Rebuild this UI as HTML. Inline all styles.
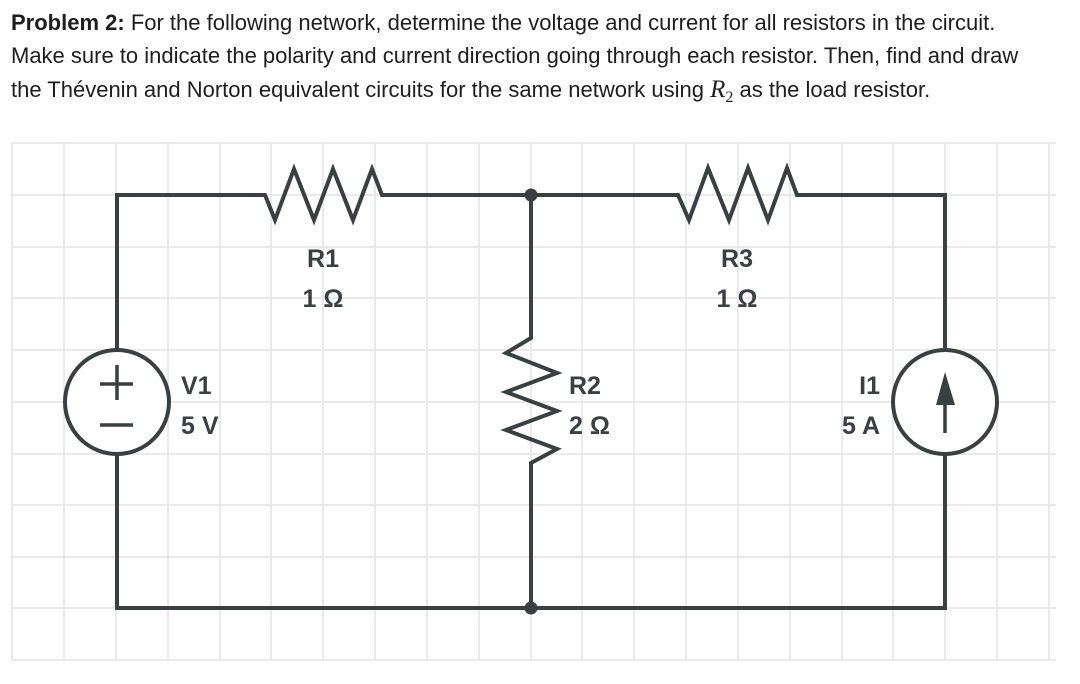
<!DOCTYPE html>
<html><head><meta charset="utf-8"><style>
html,body{margin:0;padding:0;background:#fff;width:1080px;height:684px;overflow:hidden}
svg{display:block}
.t{font-family:"Liberation Sans",sans-serif;font-size:22px;fill:#1e1e1e}
.l{font-family:"Liberation Sans","DejaVu Sans",sans-serif;font-size:25px;font-weight:bold;fill:#3a3f42}
</style></head><body>
<svg width="1080" height="684" viewBox="0 0 1080 684" xmlns="http://www.w3.org/2000/svg">
<text class="t" x="11" y="30"><tspan font-weight="bold">Problem 2:</tspan> For the following network, determine the voltage and current for all resistors in the circuit.</text>
<text class="t" x="11" y="63">Make sure to indicate the polarity and current direction going through each resistor. Then, find and draw</text>
<text class="t" x="11" y="97">the Thévenin and Norton equivalent circuits for the same network using <tspan font-family="Liberation Serif,serif" font-style="italic" font-size="25">R</tspan><tspan font-family="Liberation Serif,serif" font-size="16" dy="5">2</tspan><tspan dy="-5"> as the load resistor.</tspan></text>
<g stroke="#e4e4e4" stroke-width="1.5">
<path d="M12 143H1056M12 195H1056M12 247H1056M12 298H1056M12 350H1056M12 402H1056M12 454H1056M12 505H1056M12 557H1056M12 608H1056M12 660H1056"/>
<path d="M12 143V660M64 143V660M116 143V660M168 143V660M220 143V660M271 143V660M323 143V660M375 143V660M427 143V660M479 143V660M531 143V660M582 143V660M634 143V660M686 143V660M738 143V660M790 143V660M842 143V660M893 143V660M945 143V660M997 143V660M1049 143V660"/>
</g>
<g stroke="#3a3f42" stroke-width="4" fill="none" stroke-linejoin="miter">
<polyline points="117,350 117,195 265,195 275,220 294,169 314,220 333,169 353,220 372,169 382,195 531,195 678,195 689,220 708,168 729,220 748,168 768,220 787,168 797,195 945,195 945,350"/>
<polyline points="117,454 117,608 945,608 945,454"/>
<polyline points="531,195 531,338 506,353 557,373 506,392 557,411 506,430 557,449 531,463 531,608"/>
<circle cx="117" cy="402" r="52" fill="#fff"/>
<circle cx="945" cy="402" r="52" fill="#fff"/>
<path d="M100 384H133M117 365V400M100 425H133" stroke-width="3.5"/>
<path d="M945 433V398" stroke-width="3.5"/>
</g>
<polygon points="945,372 936,405 955,405" fill="#3a3f42"/>
<circle cx="531" cy="195" r="6.5" fill="#3a3f42"/>
<circle cx="531" cy="608" r="6.5" fill="#3a3f42"/>
<text class="l" x="323" y="267" text-anchor="middle">R1</text>
<text class="l" x="323" y="307" text-anchor="middle">1 Ω</text>
<text class="l" x="737" y="267" text-anchor="middle">R3</text>
<text class="l" x="737" y="307" text-anchor="middle">1 Ω</text>
<text class="l" x="181" y="394">V1</text>
<text class="l" x="181" y="434">5 V</text>
<text class="l" x="569" y="394">R2</text>
<text class="l" x="569" y="434">2 Ω</text>
<text class="l" x="880" y="394" text-anchor="end">I1</text>
<text class="l" x="880" y="434" text-anchor="end">5 A</text>
</svg>
</body></html>
